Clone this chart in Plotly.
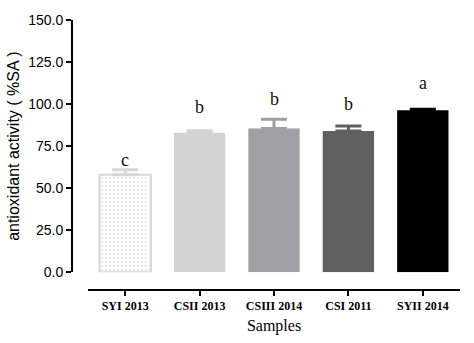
import plotly.graph_objects as go

samples = ["SYI 2013", "CSII 2013", "CSIII 2014", "CSI 2011", "SYII 2014"]
activity = [58.0, 83.0, 85.5, 84.0, 96.3]
errors = [3.0, 1.2, 5.5, 3.0, 0.6]
letters = ["c", "b", "b", "b", "a"]
letter_y = [67.0, 98.5, 103.0, 100.0, 112.5]

fills = ["#ffffff", "#d3d3d3", "#a0a0a4", "#606060", "#000000"]
edges = ["#d6d6d6", "#d3d3d3", "#a0a0a4", "#606060", "#000000"]

fig = go.Figure()
for i, s in enumerate(samples):
    marker = dict(color=fills[i], line=dict(color=edges[i], width=2 if i == 0 else 0))
    if i == 0:
        marker["pattern"] = dict(shape=".", fgcolor="#d0d0d0", bgcolor="#ffffff", size=4, solidity=0.3)
    fig.add_trace(go.Bar(
        x=[s], y=[activity[i]], width=0.69, marker=marker,
        error_y=dict(type="data", array=[errors[i]], arrayminus=[0], symmetric=False,
                     color=edges[i], thickness=3, width=13),
        showlegend=False,
    ))

for i, s in enumerate(samples):
    fig.add_annotation(x=s, y=letter_y[i], xref="x", yref="y", text=letters[i],
                       showarrow=False, font=dict(family="Liberation Serif", size=18, color="#111"))

W = 474 - 72 - 14
fig.update_layout(
    width=474, height=343, barmode="overlay",
    margin=dict(l=72, r=14, t=15, b=53),
    plot_bgcolor="white", paper_bgcolor="white",
    xaxis=dict(domain=[16 / W, 1], anchor="free", position=0, range=[-0.5, 4.5],
               showline=True, linecolor="black", linewidth=2,
               ticks="outside", ticklen=5, tickwidth=2, tickcolor="black",
               tickfont=dict(family="Liberation Serif", size=12, color="black", weight="bold"),
               title=dict(text="Samples", font=dict(family="Liberation Serif", size=16, color="black"), standoff=6),
               showgrid=False, zeroline=False),
    yaxis=dict(domain=[(290 - 272) / 275, 1], anchor="free", position=0, range=[0, 150],
               tickvals=[0, 25, 50, 75, 100, 125, 150], tickformat=".1f",
               showline=True, linecolor="black", linewidth=2,
               ticks="outside", ticklen=5, tickwidth=2, tickcolor="black",
               tickfont=dict(family="Liberation Sans", size=14, color="black"),
               title=dict(text="antioxidant activity ( %SA )", font=dict(family="Liberation Sans", size=16, color="black"), standoff=4),
               showgrid=False, zeroline=False),
)

fig.write_html("out.html")
